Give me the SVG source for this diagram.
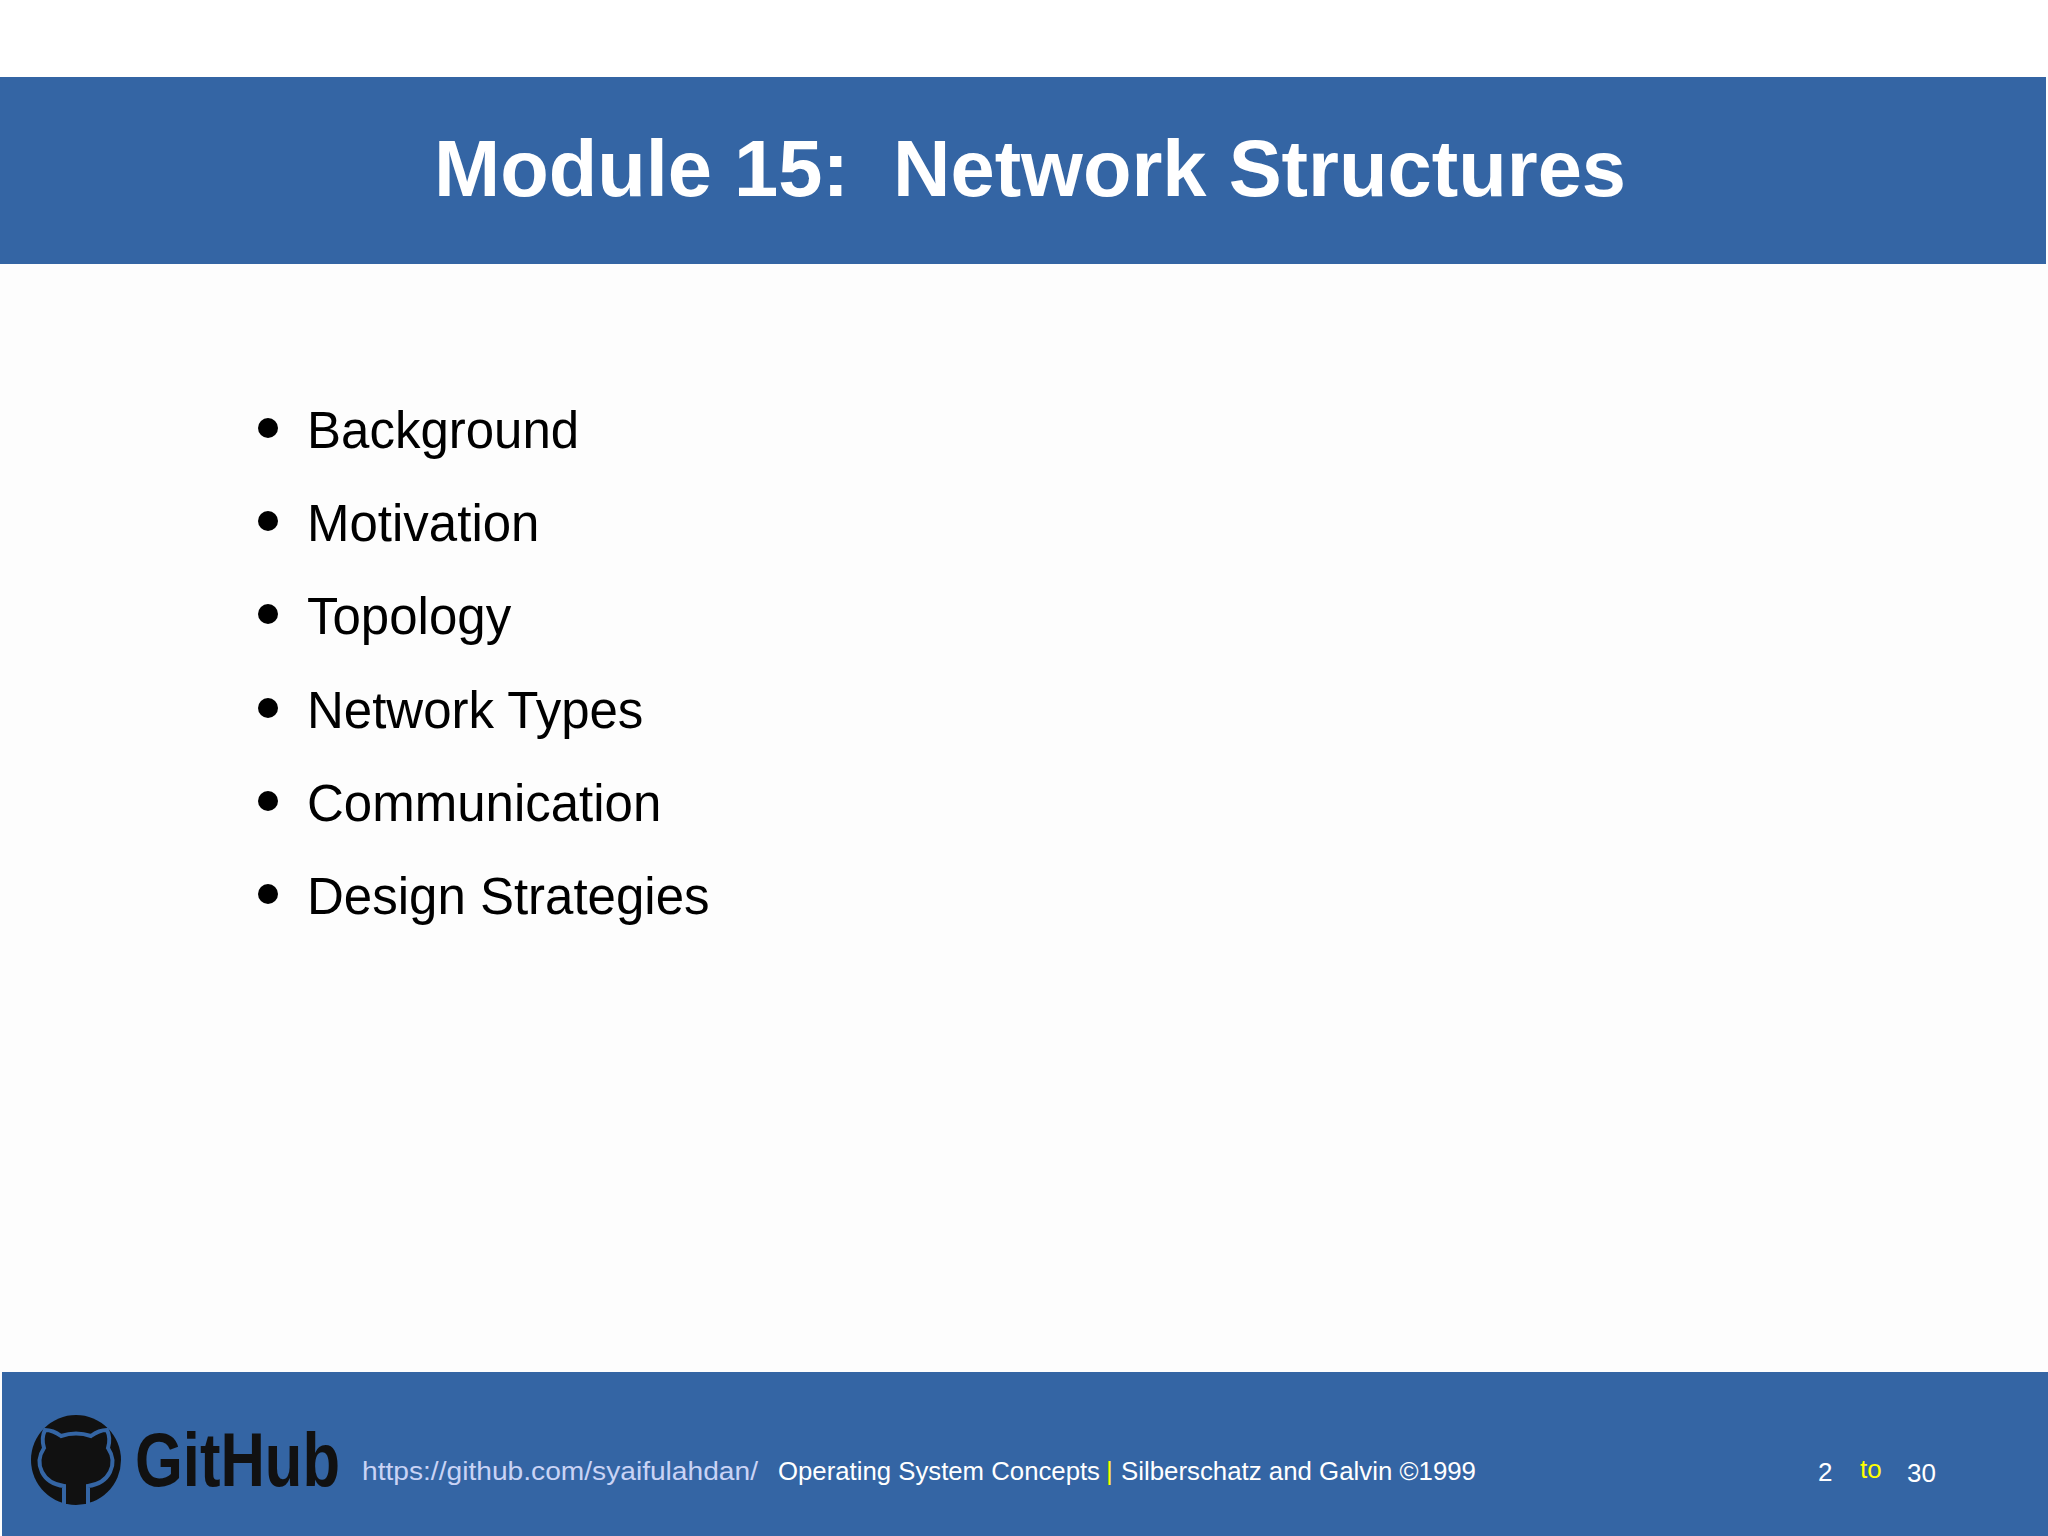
<svg xmlns="http://www.w3.org/2000/svg" width="2048" height="1536" viewBox="0 0 2048 1536">
<style>
.b{font-family:"Liberation Sans",Arial,sans-serif;font-size:51px;fill:#000}
.f{font-family:"Liberation Sans",Arial,sans-serif;font-size:26px;fill:#fff}
</style>
<rect width="2048" height="1536" fill="#fdfdfd"/>
<rect x="0" y="0" width="2048" height="77" fill="#fff"/>
<g id="title">
<rect x="0" y="77" width="2046" height="187" fill="#3465a4"/>
<text x="1030" y="196" text-anchor="middle" font-family="Liberation Sans,Arial,sans-serif" font-weight="bold" font-size="80" fill="#fff" textLength="1192" lengthAdjust="spacingAndGlyphs" xml:space="preserve">Module 15:  Network Structures</text>
</g>
<g id="bullets">
<circle cx="268" cy="428" r="10"/><text class="b" x="307" y="448">Background</text>
<circle cx="268" cy="521" r="10"/><text class="b" x="307" y="541">Motivation</text>
<circle cx="268" cy="614" r="10"/><text class="b" x="307" y="634">Topology</text>
<circle cx="268" cy="708" r="10"/><text class="b" x="307" y="728">Network Types</text>
<circle cx="268" cy="801" r="10"/><text class="b" x="307" y="821">Communication</text>
<circle cx="268" cy="894" r="10"/><text class="b" x="307" y="914">Design Strategies</text>
</g>
<g id="footer">
<rect x="2" y="1372" width="2046" height="164" fill="#3465a4"/>
<circle cx="76" cy="1460" r="45" fill="#111"/>
<path d="M64 1504 v-18 q-16 -2 -22 -14 q-6 -12 2 -24 q-3 -10 1 -18 q8 0 16 6 q15 -5 30 0 q8 -6 16 -6 q4 8 1 18 q8 12 2 24 q-6 12 -22 14 v18" fill="#111" stroke="#3465a4" stroke-width="4"/>
<text x="135" y="1486" font-family="Liberation Sans,Arial,sans-serif" font-weight="bold" font-size="76" fill="#111" textLength="205" lengthAdjust="spacingAndGlyphs">GitHub</text>
<text class="f" x="362" y="1480" style="fill:#c9d3f5" textLength="396" lengthAdjust="spacingAndGlyphs">https://github.com/syaifulahdan/</text>
<text class="f" x="778" y="1480" textLength="322" lengthAdjust="spacingAndGlyphs">Operating System Concepts</text>
<text class="f" x="1106" y="1480" style="fill:#ffff00">|</text>
<text class="f" x="1121" y="1480" textLength="355" lengthAdjust="spacingAndGlyphs">Silberschatz and Galvin ©1999</text>
<text class="f" x="1818" y="1481">2</text>
<text class="f" x="1860" y="1478" style="fill:#ffff00">to</text>
<text class="f" x="1907" y="1482">30</text>
</g>
</svg>
